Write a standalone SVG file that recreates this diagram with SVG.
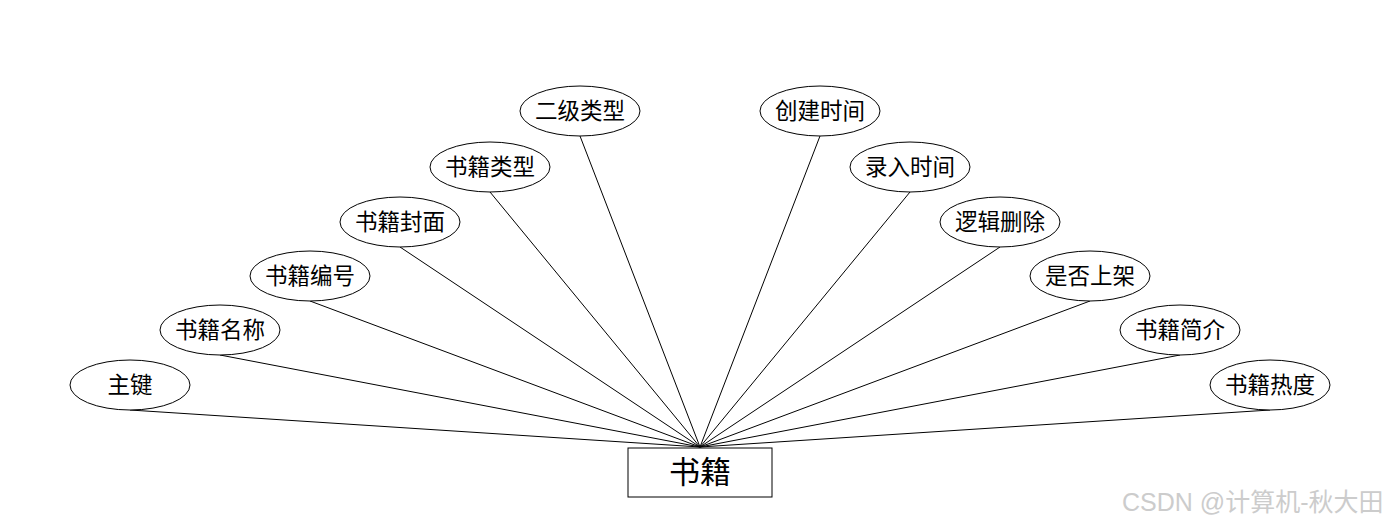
<svg xmlns="http://www.w3.org/2000/svg" width="1400" height="528" viewBox="0 0 1400 528">
<style>
.e{fill:#fff;stroke:#000;stroke-width:1}
.t{font-family:"Liberation Sans","Noto Sans CJK SC",sans-serif;font-size:22.500px;text-anchor:middle;dominant-baseline:central;fill:#000}
.c line{stroke:#000;stroke-width:1}
</style>
<rect width="1400" height="528" fill="#fff"/>
<g class="c" id="connectors">
<line x1="130" y1="410" x2="700" y2="447"/>
<line x1="220" y1="355" x2="700" y2="447"/>
<line x1="310" y1="301" x2="700" y2="447"/>
<line x1="400" y1="247" x2="700" y2="447"/>
<line x1="490" y1="192" x2="700" y2="447"/>
<line x1="580" y1="136" x2="700" y2="447"/>
<line x1="820" y1="136" x2="700" y2="447"/>
<line x1="910" y1="192" x2="700" y2="447"/>
<line x1="1000" y1="247" x2="700" y2="447"/>
<line x1="1090" y1="301" x2="700" y2="447"/>
<line x1="1180" y1="355" x2="700" y2="447"/>
<line x1="1270" y1="410" x2="700" y2="447"/>
</g>
<g id="n_main"><rect x="628" y="448" width="144" height="49" fill="#fff" stroke="#000"/><text class="t" x="700" y="472.500" style="font-size:31px">书籍</text></g>
<g id="n1"><ellipse class="e" cx="130" cy="385" rx="60" ry="25"/><text class="t" x="130" y="385">主键</text></g>
<g id="n2"><ellipse class="e" cx="220" cy="330" rx="60" ry="25"/><text class="t" x="220" y="330">书籍名称</text></g>
<g id="n3"><ellipse class="e" cx="310" cy="276" rx="60" ry="25"/><text class="t" x="310" y="276">书籍编号</text></g>
<g id="n4"><ellipse class="e" cx="400" cy="222" rx="60" ry="25"/><text class="t" x="400" y="222">书籍封面</text></g>
<g id="n5"><ellipse class="e" cx="490" cy="167" rx="60" ry="25"/><text class="t" x="490" y="167">书籍类型</text></g>
<g id="n6"><ellipse class="e" cx="580" cy="111" rx="60" ry="25"/><text class="t" x="580" y="111">二级类型</text></g>
<g id="n7"><ellipse class="e" cx="820" cy="111" rx="60" ry="25"/><text class="t" x="820" y="111">创建时间</text></g>
<g id="n8"><ellipse class="e" cx="910" cy="167" rx="60" ry="25"/><text class="t" x="910" y="167">录入时间</text></g>
<g id="n9"><ellipse class="e" cx="1000" cy="222" rx="60" ry="25"/><text class="t" x="1000" y="222">逻辑删除</text></g>
<g id="n10"><ellipse class="e" cx="1090" cy="276" rx="60" ry="25"/><text class="t" x="1090" y="276">是否上架</text></g>
<g id="n11"><ellipse class="e" cx="1180" cy="330" rx="60" ry="25"/><text class="t" x="1180" y="330">书籍简介</text></g>
<g id="n12"><ellipse class="e" cx="1270" cy="385" rx="60" ry="25"/><text class="t" x="1270" y="385">书籍热度</text></g>
<text x="1122" y="511" style="font-family:'Liberation Sans','Noto Sans CJK SC',sans-serif;font-size:25px;fill:#cccccc">CSDN @计算机-秋大田</text>
</svg>
